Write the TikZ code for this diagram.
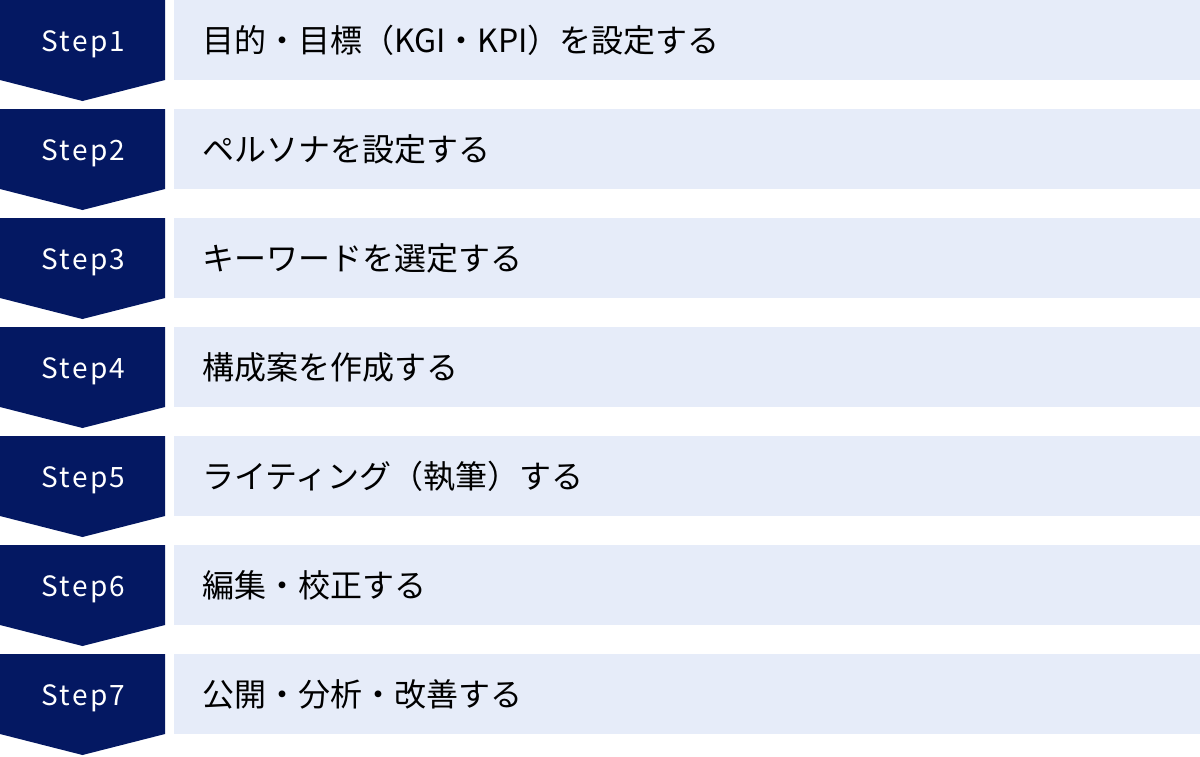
\documentclass[tikz,border=0pt]{standalone}
\usepackage{fontspec}
\setmainfont{Noto Sans CJK JP}
\newfontfamily\stepfont[LetterSpace=8]{Noto Sans CJK JP}
\usetikzlibrary{calc}
\definecolor{stepnavy}{HTML}{041862}
\definecolor{rowblue}{HTML}{E6ECF9}

\begin{document}
\begin{tikzpicture} [x=1pt, y=-1pt]
\useasboundingbox (0,0) rectangle (1200,756);

\foreach \i/\txt in {1/目的・目標（KGI・KPI）を設定する, 2/ペルソナを設定する, 3/キーワードを選定する, 4/構成案を作成する, 5/ライティング（執筆）する, 6/編集・校正する, 7/公開・分析・改善する}{
  \coordinate (T\i) at (0,{109*(\i-1)});
  \fill[stepnavy] (T\i) -- ++(165,0) -- ++(0,80) -- ++(-82.5,21) -- ++(-82.5,-21) -- cycle;
  \fill[rowblue] ($(T\i)+(174,0)$) rectangle ++(1026,80);
  \node[white, anchor=base, inner sep=0pt, font=\stepfont\fontsize{28}{32}\selectfont] (S\i) at ($(T\i)+(83.5,51.7)$) {Step\i};
  \node[black, anchor=west, inner sep=0pt, font=\fontsize{32}{38}\selectfont] (L\i) at ($(T\i)+(202,40)$) {\txt};
}

\end{tikzpicture}
\end{document}
